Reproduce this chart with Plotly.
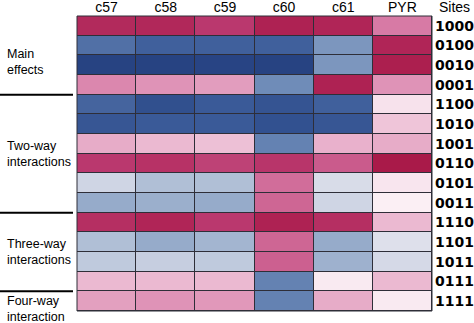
import plotly.graph_objects as go

# Columns (residues / PYR) and rows (site combinations)
columns = ["c57", "c58", "c59", "c60", "c61", "PYR"]
sites = ["1000", "0100", "0010", "0001",
         "1100", "1010", "1001", "0110", "0101", "0011",
         "1110", "1101", "1011", "0111",
         "1111"]

# Effect values, one list per site row (columns in order above)
row_1000 = [0.85, 0.86, 0.76, 0.90, 0.88, 0.50]
row_0100 = [-0.64, -0.72, -0.72, -0.72, -0.45, 0.88]
row_0010 = [-0.93, -0.93, -0.92, -0.93, -0.45, 0.92]
row_0001 = [0.45, 0.40, 0.36, -0.50, 0.90, 0.40]
row_1100 = [-0.70, -0.83, -0.75, -0.80, -0.72, 0.08]
row_1010 = [-0.78, -0.75, -0.75, -0.82, -0.78, 0.20]
row_1001 = [0.30, 0.25, 0.22, -0.55, 0.28, 0.30]
row_0110 = [0.76, 0.80, 0.72, 0.78, 0.62, 0.95]
row_0101 = [-0.15, -0.25, -0.25, 0.55, -0.12, 0.07]
row_0011 = [-0.35, -0.33, -0.35, 0.58, -0.15, 0.03]
row_1110 = [0.82, 0.88, 0.76, 0.90, 0.82, 0.25]
row_1101 = [-0.25, -0.35, -0.30, 0.58, -0.35, -0.10]
row_1011 = [-0.20, -0.18, -0.20, 0.60, -0.32, -0.13]
row_0111 = [0.25, 0.25, 0.25, -0.55, 0.05, 0.25]
row_1111 = [0.35, 0.40, 0.38, -0.55, 0.30, 0.05]

values = [row_1000, row_0100, row_0010, row_0001,
          row_1100, row_1010, row_1001, row_0110, row_0101, row_0011,
          row_1110, row_1101, row_1011, row_0111,
          row_1111]

# Group labels and the number of rows in each group
groups = ["Main<br>effects", "Two-way<br>interactions",
          "Three-way<br>interactions", "Four-way<br>interaction"]
group_sizes = [4, 6, 4, 1]

colorscale = [
    [0.000, "#1f3a7a"],
    [0.125, "#3a5a98"],
    [0.250, "#6f8cb8"],
    [0.375, "#b0bfd6"],
    [0.500, "#fdf6f9"],
    [0.625, "#ebb9d1"],
    [0.750, "#d77aa5"],
    [0.875, "#bb3a70"],
    [1.000, "#a5123f"],
]

fig = go.Figure(go.Heatmap(
    z=values, x=columns, y=sites,
    colorscale=colorscale, zmin=-1, zmax=1,
    showscale=False, xgap=1, ygap=1,
    hoverongaps=False,
))

font_main = "Liberation Sans, Arial, sans-serif"

fig.update_layout(
    width=474, height=323,
    margin=dict(l=77, r=42, t=16, b=12),
    paper_bgcolor="white",
    plot_bgcolor="#2e2e38",
    font=dict(family=font_main, color="black"),
    xaxis=dict(side="top", showgrid=False, zeroline=False, ticks="",
               automargin=False, ticklabelstandoff=0,
               tickfont=dict(size=14, color="black"), fixedrange=True),
    yaxis=dict(side="right", autorange="reversed", showgrid=False,
               zeroline=False, ticks="", ticklabelstandoff=2,
               automargin=False,
               tickfont=dict(size=14, family="DejaVu Sans", weight="bold",
                             color="black"), fixedrange=True),
)

# Outer frame of the heatmap
fig.add_shape(type="rect", xref="paper", yref="paper", x0=0, x1=1, y0=0, y1=1,
              line=dict(color="#2e2e38", width=1))

# "Sites" header above the row labels
fig.add_annotation(text="Sites", xref="paper", yref="paper", x=1.015, y=1.0,
                   xanchor="left", yanchor="bottom", showarrow=False,
                   font=dict(size=14, family=font_main), yshift=-1)

# Group labels on the left with separating rules
start = 0
left_px = -77 / 355
for i, (g, n) in enumerate(zip(groups, group_sizes)):
    center = start + (n - 1) / 2
    yshift = -7 if i == 0 else (-8 if i == 3 else 0)
    fig.add_annotation(text=g, xref="paper", yref="y",
                       x=left_px + 5 / 355, y=center, xanchor="left",
                       yanchor="middle", align="left", showarrow=False,
                       yshift=yshift,
                       font=dict(size=12.5, family=font_main))
    end = start + n
    if i < len(groups) - 1:
        fig.add_shape(type="line", xref="paper", yref="y",
                      x0=left_px, x1=-4 / 355, y0=end - 0.5, y1=end - 0.5,
                      line=dict(color="black", width=2))
    start = end

fig.write_html("out.html")
